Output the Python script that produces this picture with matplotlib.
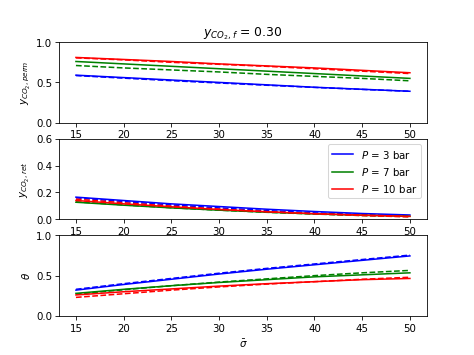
import matplotlib
matplotlib.use("Agg")
import matplotlib.pyplot as plt

sigma = [15, 20, 25, 30, 35, 40, 45, 50]
pressures = [3, 7, 10]
colors = ["blue", "green", "red"]

# y_CO2,perm (solid / dashed)
perm_solid = {
    3: [0.59, 0.56, 0.53, 0.50, 0.47, 0.44, 0.415, 0.39],
    7: [0.76, 0.73, 0.70, 0.67, 0.64, 0.61, 0.58, 0.55],
    10: [0.81, 0.785, 0.76, 0.73, 0.705, 0.68, 0.65, 0.62],
}
perm_dashed = {
    3: [0.585, 0.553, 0.522, 0.493, 0.465, 0.438, 0.413, 0.39],
    7: [0.71, 0.68, 0.655, 0.63, 0.60, 0.575, 0.55, 0.52],
    10: [0.805, 0.78, 0.75, 0.725, 0.70, 0.67, 0.64, 0.61],
}
# y_CO2,ret
ret_solid = {
    3: [0.165, 0.14, 0.115, 0.095, 0.075, 0.058, 0.043, 0.032],
    7: [0.127, 0.105, 0.085, 0.068, 0.053, 0.04, 0.03, 0.022],
    10: [0.14, 0.115, 0.093, 0.073, 0.056, 0.042, 0.031, 0.022],
}
ret_dashed = {
    3: [0.16, 0.132, 0.107, 0.085, 0.065, 0.048, 0.035, 0.025],
    7: [0.13, 0.107, 0.086, 0.068, 0.052, 0.039, 0.028, 0.02],
    10: [0.15, 0.123, 0.098, 0.076, 0.057, 0.041, 0.028, 0.018],
}
# theta
theta_solid = {
    3: [0.32, 0.39, 0.455, 0.52, 0.58, 0.635, 0.69, 0.745],
    7: [0.28, 0.33, 0.375, 0.415, 0.45, 0.485, 0.51, 0.535],
    10: [0.26, 0.30, 0.335, 0.37, 0.40, 0.425, 0.45, 0.465],
}
theta_dashed = {
    3: [0.33, 0.40, 0.465, 0.53, 0.59, 0.645, 0.70, 0.755],
    7: [0.27, 0.325, 0.375, 0.42, 0.46, 0.50, 0.535, 0.565],
    10: [0.23, 0.275, 0.32, 0.36, 0.395, 0.425, 0.455, 0.48],
}

fig, axes = plt.subplots(3, 1, figsize=(6.4, 4.8), dpi=74.0625)
panels = [
    (perm_solid, perm_dashed, r"$y_{CO_2,perm}$", (0, 1.0), [0.0, 0.5, 1.0]),
    (ret_solid, ret_dashed, r"$y_{CO_2,ret}$", (0, 0.6), [0.0, 0.2, 0.4, 0.6]),
    (theta_solid, theta_dashed, r"$\theta$", (0, 1.0), [0.0, 0.5, 1.0]),
]
for ax, (sol, das, lab, lim, ticks) in zip(axes, panels):
    for p, c in zip(pressures, colors):
        ax.plot(sigma, sol[p], color=c, lw=1.5, label=rf"$P$ = {p} bar")
        ax.plot(sigma, das[p], color=c, lw=1.5, ls="--")
    ax.set_ylim(*lim)
    ax.set_yticks(ticks)
    ax.set_xticks(sigma)
    ax.set_ylabel(lab)

axes[0].set_title(r"$y_{CO_2,f}$ = 0.30")
handles, labels = axes[1].get_legend_handles_labels()
axes[1].legend(handles, labels, loc="upper right")
axes[2].set_xlabel(r"$\bar{\sigma}$")

fig.savefig("out.png", dpi=74.0625)
